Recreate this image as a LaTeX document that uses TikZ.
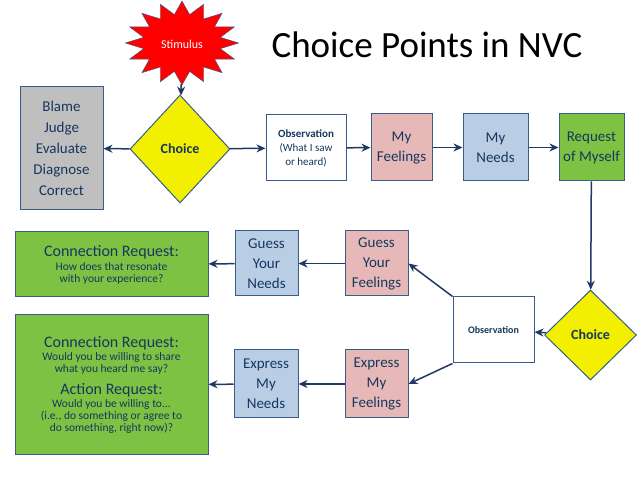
\documentclass[tikz,border=0pt]{standalone}
\usepackage{fontspec}
\setmainfont{Carlito}
\usetikzlibrary{shapes.geometric,shapes.misc,arrows.meta}
\definecolor{pk}{HTML}{E6B9B8}
\definecolor{bl}{HTML}{B9CDE5}
\definecolor{gr}{HTML}{7DC242}
\definecolor{gy}{HTML}{BFBFBF}
\definecolor{yl}{HTML}{F2F000}
\definecolor{bd}{HTML}{385D8A}
\definecolor{ar}{HTML}{1F3864}
\definecolor{tx}{HTML}{17375E}
\tikzset{
 bx/.style={draw=bd,line width=1pt,minimum width=#1,align=center,inner sep=1pt,text=tx},
 bx/.default=63pt,
 dia/.style={diamond,draw=bd,line width=1pt,fill=yl,aspect=1,inner sep=0pt,font=\bfseries\fontsize{14}{16}\selectfont,text=tx},
 con/.style={-{Stealth[length=9pt,width=8pt]},draw=ar,line width=1.5pt},
 mid/.style={font=\fontsize{15}{20}\selectfont}
}
\begin{document}
\begin{tikzpicture}[x=1pt,y=-1pt]
\useasboundingbox[fill=white] (0,0) rectangle (638,478);
\node[star,star points=16,star point ratio=1.45,draw=bd,fill=red,minimum size=84pt,inner sep=0pt,transform shape,xscale=1.35] (stim) at (182,43) {};
\node[text=white,font=\fontsize{12}{14}\selectfont] at (182,44) {Stimulus};
\node[font=\fontsize{37}{42}\selectfont,anchor=west] (title) at (268,45) {Choice Points in NVC};
\node[bx=83pt,minimum height=123pt,fill=gy,font=\fontsize{15}{21}\selectfont] (blame) at (61.5,148.5) {Blame\\Judge\\Evaluate\\Diagnose\\Correct};
\node[dia,minimum width=100pt,minimum height=108pt] (ch1) at (180,149) {Choice};
\node[bx=80pt,minimum height=66pt,fill=white,font=\fontsize{11}{14}\selectfont] (obs1) at (306,148) {\textbf{Observation}\\(What I saw\\or heard)};
\node[bx=61pt,minimum height=67pt,fill=pk,mid] (f1) at (401.5,147.5) {My\\Feelings};
\node[bx=65pt,minimum height=67pt,fill=bl,mid] (n1) at (495.5,147.5) {My\\Needs};
\node[bx=65pt,minimum height=67pt,fill=gr,mid] (r1) at (591.5,147.5) {Request\\of Myself};
\node[dia,minimum width=92pt,minimum height=90pt] (ch2) at (590.5,335) {Choice};
\node[bx=81pt,minimum height=66pt,fill=white,font=\bfseries\fontsize{10}{12}\selectfont] (obs2) at (493.5,330) {Observation};
\node[bx=63pt,minimum height=65pt,fill=pk,mid] (gf) at (376.5,263.5) {Guess\\Your\\Feelings};
\node[bx=63pt,minimum height=65pt,fill=bl,mid] (gn) at (266.5,263.5) {Guess\\Your\\Needs};
\node[bx=193pt,minimum height=65pt,fill=gr] (cr) at (111.5,264.5) {{\fontsize{16}{18}\selectfont Connection Request:}\\[2pt]{\fontsize{11.5}{15}\selectfont How does that resonate}\\{\fontsize{11.5}{15}\selectfont with your experience?}};
\node[bx=63pt,minimum height=68pt,fill=pk,mid] (ef) at (376.5,384) {Express\\My\\Feelings};
\node[bx=64pt,minimum height=68pt,fill=bl,mid] (en) at (266,384) {Express\\My\\Needs};
\node[bx=193pt,minimum height=140pt,fill=gr] (ar2) at (111.5,385) {{\fontsize{16}{18}\selectfont Connection Request:}\\[1pt]{\fontsize{11.5}{15}\selectfont Would you be willing to share}\\{\fontsize{11.5}{15}\selectfont what you heard me say?}\\[8pt]{\fontsize{16}{18}\selectfont Action Request:}\\[1pt]{\fontsize{11.5}{15}\selectfont Would you be willing to...}\\{\fontsize{11.5}{15}\selectfont (i.e., do something or agree to}\\{\fontsize{11.5}{15}\selectfont do something, right now)?}};
\draw[con] (stim) -- (ch1);
\draw[con] (ch1) -- (blame);
\draw[con] (ch1) -- (obs1);
\draw[con] (obs1) -- (f1);
\draw[con] (f1) -- (n1);
\draw[con] (n1) -- (r1);
\draw[con] (r1) -- (ch2);
\draw[con] (ch2) -- (obs2);
\draw[con] (obs2.north west) -- (gf.east);
\draw[con] (obs2.south west) -- (ef.east);
\draw[con] (gf) -- (gn);
\draw[con] (gn) -- (cr);
\draw[con] (ef) -- (en);
\draw[con] (en) -- (ar2);
\end{tikzpicture}
\end{document}
